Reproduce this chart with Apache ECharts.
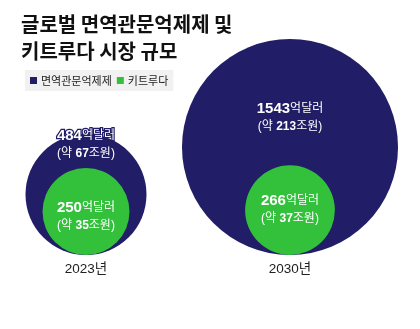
<!DOCTYPE html>
<html>
<head>
<meta charset="utf-8">
<script src="https://cdn.jsdelivr.net/npm/echarts@6/dist/echarts.min.js"></script>
<style>
  html, body { margin: 0; padding: 0; background: #fff; }
  #chart { width: 420px; height: 329px; }
</style>
</head>
<body>
<div id="chart"></div>
<script>
// Market size, 억달러 with the 조원 equivalent
const years = ['2023년', '2030년'];
const checkpointUsd = [484, 1543];
const checkpointKrw = [67, 213];
const keytrudaUsd = [250, 266];
const keytrudaKrw = [35, 37];

const NAVY = '#211d66';
const GREEN = '#33c13c';
const NUM_FONT = "'Liberation Sans', Arial, 'Noto Sans CJK KR', sans-serif";
const SQUARE = 'path://M0,0H10V10H0Z';

// vertical shift of each label block from its circle centre, in radii
const navyLabelShift = [-0.82, -0.27];
const greenLabelShift = [0.13, 0];

function bubbleSeries(name, usd, krw, color, shift, outline) {
  return {
    name: name,
    type: 'custom',
    coordinateSystem: 'cartesian2d',
    clip: false,
    itemStyle: { color: color },
    data: usd.map((v, i) => [i, v, krw[i]]),
    encode: { x: 0, y: 1 },
    renderItem: function (params, api) {
      const idx = api.value(0);
      const v = api.value(1);
      const base = api.coord([idx, 0]);
      // area-proportional circle resting on the baseline
      const r = api.size([0, 2 * Math.sqrt(v)])[1] / 2;
      const cx = base[0];
      const cy = base[1] - r;
      const stroke = outline ? NAVY : null;
      const lw = outline ? 2.5 : 0;
      return {
        type: 'group',
        children: [
          { type: 'circle', shape: { cx: cx, cy: cy, r: r }, style: { fill: color } },
          {
            type: 'text',
            x: cx,
            y: cy + shift[idx] * r,
            z2: 10,
            style: {
              text: '{n|' + v + '}{u|억달러}\n{p|(약 }{b|' + api.value(2) + '}{p|조원)}',
              align: 'center',
              verticalAlign: 'middle',
              fill: '#fff',
              stroke: stroke,
              lineWidth: lw,
              rich: {
                n: { fontFamily: NUM_FONT, fontSize: 15, fontWeight: 'bold', fill: '#fff', stroke: stroke, lineWidth: lw, lineHeight: 18 },
                u: { fontFamily: NUM_FONT, fontSize: 12, fill: '#fff', stroke: stroke, lineWidth: lw, lineHeight: 18 },
                p: { fontFamily: NUM_FONT, fontSize: 12, fill: '#fff', stroke: stroke, lineWidth: lw, lineHeight: 18 },
                b: { fontFamily: NUM_FONT, fontSize: 12, fontWeight: 'bold', fill: '#fff', stroke: stroke, lineWidth: lw, lineHeight: 18 }
              }
            }
          }
        ]
      };
    }
  };
}

const chart = echarts.init(document.getElementById('chart'), null, { renderer: 'canvas' });
chart.setOption({
  backgroundColor: '#fff',
  animation: false,
  title: {
    text: '글로벌 면역관문억제제 및\n키트루다 시장 규모',
    left: 21,
    top: 11,
    padding: 0,
    textStyle: {
      fontFamily: "'Noto Sans CJK KR', sans-serif",
      fontSize: 20,
      fontWeight: 'bold',
      color: '#111',
      lineHeight: 27
    }
  },
  legend: {
    left: 25,
    top: 70,
    padding: [5, 5, 5, 5],
    backgroundColor: '#f1f1f1',
    icon: SQUARE,
    itemWidth: 7,
    itemHeight: 7,
    itemGap: 5,
    selectedMode: false,
    textStyle: {
      fontFamily: "'Noto Sans CJK KR', sans-serif",
      fontSize: 11,
      color: '#222',
      padding: [0, 0, 0, -1]
    },
    data: [
      { name: '면역관문억제제', icon: SQUARE },
      { name: '키트루다', icon: SQUARE }
    ]
  },
  grid: { left: 86, right: 130, top: 35, bottom: 74 },
  xAxis: {
    type: 'category',
    data: years,
    boundaryGap: false,
    axisLine: { show: false },
    axisTick: { show: false },
    splitLine: { show: false },
    axisLabel: {
      margin: 8,
      fontFamily: NUM_FONT,
      fontSize: 13.5,
      color: '#222'
    }
  },
  yAxis: {
    type: 'value',
    min: 0,
    max: 80,
    show: false
  },
  series: [
    bubbleSeries('면역관문억제제', checkpointUsd, checkpointKrw, NAVY, navyLabelShift, true),
    bubbleSeries('키트루다', keytrudaUsd, keytrudaKrw, GREEN, greenLabelShift, false)
  ]
});
</script>
</body>
</html>
